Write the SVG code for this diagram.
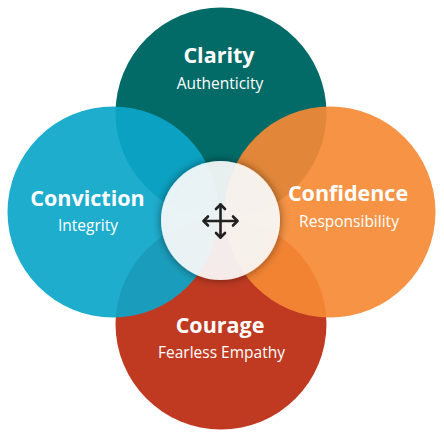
<svg xmlns="http://www.w3.org/2000/svg" width="444" height="440" viewBox="0 0 444 440">
<defs>
<filter id="sh" x="-30%" y="-30%" width="160%" height="160%">
<feGaussianBlur in="SourceAlpha" stdDeviation="5"/>
<feComponentTransfer><feFuncA type="linear" slope="0.55"/></feComponentTransfer>
<feMerge><feMergeNode/><feMergeNode in="SourceGraphic"/></feMerge>
</filter>
</defs>
<style>
.c{opacity:0.92}
.t{font-family:"Open Sans","Liberation Sans",sans-serif;fill:#fff;text-anchor:middle}
.b{font-weight:700;font-size:21.5px}
.s{font-size:15.5px}
.ic{fill:none;stroke:#222;stroke-width:2.6;stroke-linecap:round;stroke-linejoin:round}
</style>
<rect width="444" height="440" fill="#fff"/>
<g id="clarity">
<circle cx="221" cy="113" r="105.5" fill="#026b67"/>
<text class="t b" x="219" y="63">Clarity</text>
<text class="t s" x="220" y="89">Authenticity</text>
</g>
<g id="courage">
<circle cx="221" cy="324" r="105.5" fill="#c03a22"/>
<text class="t b" x="220" y="333">Courage</text>
<text class="t s" x="221.5" y="358">Fearless Empathy</text>
</g>
<g id="conviction">
<circle class="c" cx="113" cy="212" r="105.5" fill="#0ca6ca"/>
<text class="t b" x="87.5" y="206">Conviction</text>
<text class="t s" x="88" y="231">Integrity</text>
</g>
<g id="confidence">
<circle class="c" cx="330" cy="212" r="105.5" fill="#f58a35"/>
<text class="t b" x="348" y="201">Confidence</text>
<text class="t s" x="349" y="227">Responsibility</text>
</g>
<g id="center">
<circle cx="220.5" cy="220.5" r="59.5" fill="#fff" fill-opacity="0.88" filter="url(#sh)"/>
<g class="ic">
<path d="M204 221H237M220.5 204.5V237.5"/>
<path d="M208 216.5L203.5 221L208 225.5M233 216.5L237.5 221L233 225.5M216 209L220.5 204.5L225 209M216 233L220.5 237.5L225 233"/>
</g>
</g>
</svg>
